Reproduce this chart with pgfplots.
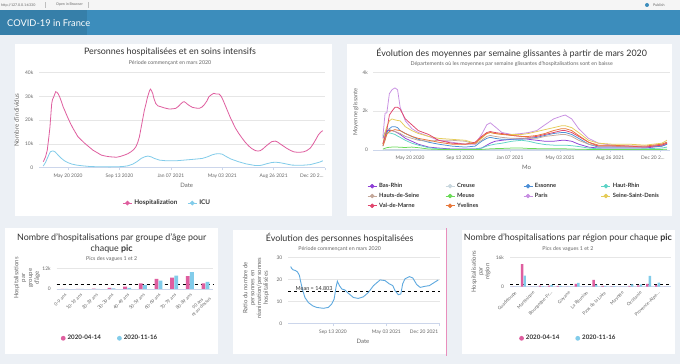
\documentclass[border=0pt]{standalone}
\usepackage{fontspec}
\setmainfont{Lato}
\usepackage{pgfplots}
\usepackage{pgfplotstable}
\pgfplotsset{compat=1.18}

\definecolor{pagebg}{HTML}{ECF0F5}
\definecolor{hdr}{HTML}{3C8DBC}
\definecolor{logo}{HTML}{367FA9}
\definecolor{darkc}{HTML}{333333}
\definecolor{tickc}{HTML}{666666}
\definecolor{gridc}{HTML}{E6E6E6}
\definecolor{axisc}{HTML}{CCD6EB}
\definecolor{pinkc}{HTML}{DF5E9F}
\definecolor{bluec}{HTML}{82CCEA}
\definecolor{ratioc}{HTML}{5EA9DF}
\definecolor{cBasRhin}{HTML}{8E3FD6}
\definecolor{cCreuse}{HTML}{C9D7DE}
\definecolor{cEssonne}{HTML}{4C8FD6}
\definecolor{cHautRhin}{HTML}{5ED3C6}
\definecolor{cHdS}{HTML}{C4A89A}
\definecolor{cMeuse}{HTML}{6BDB58}
\definecolor{cParis}{HTML}{C88FE2}
\definecolor{cSSD}{HTML}{E5CC5A}
\definecolor{cVdM}{HTML}{E0446C}
\definecolor{cYvelines}{HTML}{E8773A}

\newcommand{\fs}[1]{\fontsize{#1}{#1}\selectfont}

\pgfplotstableread{
day  br   cr   es   hr   hs   me   pa   ss   vm   yv
0    0.60 0.01 0.20 0.70 0.30 0.05 0.70 0.30 0.30 0.20
5    0.90 0.02 0.60 0.85 0.80 0.09 1.90 0.90 0.70 0.50
9    1.00 0.02 0.90 0.90 1.10 0.12 1.90 1.20 1.00 0.80
15   1.00 0.03 1.10 0.88 1.05 0.14 2.90 1.50 1.80 0.95
21   1.00 0.03 1.20 0.85 1.00 0.15 3.10 1.60 2.00 1.00
28   0.95 0.03 1.20 0.80 0.95 0.15 3.20 1.55 2.20 1.05
34   0.88 0.03 1.15 0.72 0.90 0.15 3.10 1.52 2.20 1.02
40   0.80 0.03 1.00 0.65 0.85 0.14 2.20 1.50 2.10 1.00
52   0.60 0.02 0.85 0.50 0.70 0.13 1.50 1.20 1.60 0.85
67   0.45 0.02 0.70 0.35 0.60 0.15 1.10 1.00 1.30 0.70
82   0.30 0.02 0.55 0.25 0.50 0.12 0.90 0.85 1.00 0.60
106  0.15 0.01 0.40 0.12 0.45 0.05 0.70 0.70 0.80 0.50
129  0.10 0.01 0.30 0.06 0.50 0.03 0.50 0.60 0.50 0.40
160  0.05 0.01 0.20 0.04 0.50 0.02 0.40 0.55 0.35 0.30
191  0.05 0.01 0.15 0.04 0.45 0.02 0.30 0.50 0.30 0.30
214  0.05 0.01 0.20 0.05 0.30 0.02 0.30 0.35 0.40 0.35
229  0.10 0.02 0.45 0.10 0.50 0.03 0.80 0.60 0.70 0.65
241  0.25 0.03 0.60 0.20 0.70 0.05 1.30 0.85 0.90 0.85
249  0.35 0.03 0.65 0.25 0.75 0.06 1.40 0.90 0.95 0.90
260  0.45 0.03 0.60 0.30 0.70 0.07 1.20 0.85 0.90 0.85
276  0.50 0.03 0.55 0.35 0.65 0.08 0.90 0.80 0.85 0.80
299  0.55 0.03 0.55 0.45 0.60 0.10 0.80 0.80 0.75 0.75
322  0.60 0.03 0.55 0.50 0.60 0.10 0.85 0.80 0.70 0.70
338  0.55 0.03 0.60 0.45 0.60 0.08 0.90 0.85 0.65 0.70
357  0.50 0.03 0.65 0.35 0.60 0.07 1.00 0.95 0.70 0.75
376  0.45 0.03 0.75 0.28 0.70 0.06 1.30 1.05 0.80 0.85
396  0.45 0.03 0.85 0.25 0.75 0.06 1.60 1.15 0.90 1.00
415  0.50 0.03 0.90 0.25 0.80 0.06 1.75 1.25 1.00 1.10
423  0.50 0.03 0.90 0.25 0.80 0.06 1.80 1.25 1.00 1.10
438  0.45 0.02 0.80 0.22 0.70 0.05 1.60 1.15 0.90 1.00
454  0.30 0.02 0.60 0.18 0.50 0.04 1.10 0.90 0.70 0.75
477  0.15 0.02 0.30 0.10 0.30 0.03 0.60 0.50 0.40 0.40
500  0.10 0.01 0.15 0.06 0.20 0.02 0.35 0.35 0.20 0.25
531  0.10 0.01 0.15 0.05 0.20 0.02 0.25 0.30 0.20 0.25
570  0.10 0.01 0.15 0.05 0.15 0.02 0.20 0.30 0.20 0.20
608  0.10 0.01 0.15 0.06 0.15 0.02 0.15 0.25 0.15 0.20
647  0.20 0.01 0.20 0.10 0.25 0.03 0.30 0.35 0.25 0.30
659  0.30 0.02 0.30 0.15 0.35 0.04 0.40 0.50 0.35 0.40
}\deptable

\pgfplotsset{
  hc/.style={
    scale only axis,
    axis x line*=bottom, axis y line*=left,
    x axis line style={draw=axisc, line width=0.5pt, -},
    y axis line style={draw=none},
    ymajorgrids, grid style={draw=gridc, line width=0.45pt},
    tick align=outside,
    major tick length=2.5pt,
    xtick style={draw=axisc, line width=0.45pt},
    ytick style={draw=none},
    scaled ticks=false,
    tick label style={font=\fs{4.9}, text=tickc},
    label style={font=\fs{6}, text=tickc},
    /pgf/number format/assume math mode=true,
    legend cell align=left,
  },
  lineleg/.style={legend image code/.code={\draw[##1,line width=0.9pt] (0pt,0pt) -- (9pt,0pt); \fill[##1] (4.5pt,0pt) circle (1.9pt);}},
}

\begin{document}
\begin{tikzpicture}
\useasboundingbox (0,0) rectangle (680pt,364pt);
\fill[pagebg] (0,0) rectangle (680pt,364pt);
% browser strip
\fill[white!96!black] (0,354pt) rectangle (680pt,364pt);
\node[anchor=west, font=\fs{3.6}, text=tickc, inner sep=0pt] at (1pt,359pt) {http://127.0.0.1:6330};
\draw[gray!50] (45pt,356pt) -- (45pt,362pt);
\node[anchor=west, font=\fs{3.6}, text=tickc, inner sep=0pt] at (56pt,359pt) {Open in Browser};
\draw[gray!50] (88pt,356pt) -- (88pt,362pt);
\node[anchor=west, font=\fs{3.6}, text=tickc, inner sep=0pt] at (653pt,359pt) {Publish};
\fill[hdr] (647pt,359pt) circle (2pt);
% header
\fill[hdr] (0,329pt) rectangle (680pt,354pt);
\fill[logo] (0,329pt) rectangle (87pt,354pt);
\node[anchor=west, font=\fs{9.3}, text=white, inner sep=0pt] at (7pt,340.7pt) {COVID-19 in France};
% panels
\fill[white] (15pt,148pt) rectangle (331.7pt,320pt);
\fill[white] (346.7pt,148pt) rectangle (672pt,320pt);
\fill[white] (5pt,10pt) rectangle (218pt,136pt);
\fill[white] (233pt,10pt) rectangle (446pt,134pt);
\fill[white] (462pt,10pt) rectangle (675pt,134pt);
\draw[pinkc!70, line width=0.8pt] (446pt,8pt) -- (446pt,136pt);

% titles
\node[font=\fs{8.9}, text=darkc] at (170pt,311.7pt) {Personnes hospitalisées et en soins intensifs};
\node[font=\fs{5.3}, text=tickc] at (170pt,300.7pt) {Période commençant en mars 2020};
\node[font=\fs{8.9}, text=darkc] at (511.7pt,310.7pt) {Évolution des moyennes par semaine glissantes à partir de mars 2020};
\node[font=\fs{5.3}, text=tickc] at (511.7pt,300pt) {Départements où les moyennes par semaine glissantes d'hospitalisations sont en baisse};
\node[font=\fontsize{8.9}{10.7}\selectfont, text=darkc, align=center] at (111.7pt,120.3pt) {Nombre d'hospitalisations par groupe d'âge pour\\chaque \textbf{pic}};
\node[font=\fs{5.3}, text=tickc] at (111.7pt,105pt) {Pics des vagues 1 et 2};
\node[font=\fs{8.9}, text=darkc] at (339.7pt,125.7pt) {Évolution des personnes hospitalisées};
\node[font=\fs{5.3}, text=tickc] at (339.7pt,115pt) {Période commençant en mars 2020};
\node[font=\fs{8.9}, text=darkc] at (568pt,125.7pt) {Nombre d'hospitalisations par région pour chaque \textbf{pic}};
\node[font=\fs{5.3}, text=tickc] at (568pt,115pt) {Pics des vagues 1 et 2};

% ---------- Chart 1 ----------
\begin{axis}[hc, at={(39.3pt,196.3pt)}, anchor=south west, width=285.7pt, height=95pt,
  xmin=-2, xmax=643, ymin=0, ymax=40000,
  ytick={0,10000,20000,30000,40000}, yticklabels={0,10k,20k,30k,40k},
  xtick={63,179,295,411,527},
  xticklabels={May 20 2020,Sep 13 2020,Jan 07 2021,May 03 2021,Aug 26 2021},
  extra x ticks={643}, extra x tick labels={Dec 20 2…},
  extra x tick style={tick label style={anchor=north east, xshift=2pt}},
  xlabel={Date}, xlabel style={at={(axis description cs:0.516,-0.19)}, anchor=center},
  ylabel={Nombre d'individus}, ylabel style={at={(axis description cs:-0.08,0.5)}, anchor=center, font=\fs{6.3}},
  lineleg, legend columns=2,
  legend style={at={(axis description cs:0.28,-0.372)}, anchor=west, draw=none, fill=none,
    font=\fs{6.4}\bfseries, text=darkc, /tikz/every even column/.append style={column sep=8pt}},
]
\addplot[pinkc, line width=0.8pt] coordinates {
(7,2500) (12,4500) (16,7400) (19,12000) (22,17000) (24,22000) (26,27000) (28,28800) (30,29600) (33,31000) (35,32000) (38,31700) (41,31000) (44,29800) (48,27800) (52,25500) (55,24300) (59,22500) (63,20800) (68,18800) (74,16600) (80,14700) (85,13100) (92,11800) (101,10200) (110,8800) (119,7400) (128,6400) (138,5300) (147,4900) (157,4600) (165,4500) (172,4400) (180,4700) (190,5300) (198,5900) (205,6700) (211,7600) (216,8800) (220,10500) (224,13000) (228,17000) (231,20000) (235,24000) (239,27000) (242,29500) (245,31300) (247,32500) (249,33100) (251,32500) (254,31300) (257,29000) (261,27000) (266,26000) (272,25700) (280,25200) (291,24700) (300,24800) (306,25000) (312,25800) (317,26800) (322,27600) (325,27800) (329,27300) (332,26800) (338,26000) (344,25400) (352,25100) (359,25000) (365,25500) (370,26400) (376,28000) (381,29900) (387,30800) (392,31300) (398,31000) (404,31000) (408,30200) (411,29200) (415,27500) (419,25700) (425,23000) (430,20800) (436,18500) (441,16600) (448,14500) (456,12400) (463,10700) (471,9100) (478,8000) (486,7200) (492,7000) (497,7200) (502,7800) (508,8800) (515,9900) (523,11000) (531,11200) (536,10800) (542,10000) (550,9000) (557,8100) (565,7300) (572,6700) (580,6500) (587,6500) (595,6700) (602,7200) (610,8300) (617,10200) (622,11800) (628,13800) (633,14900) (638,15600)
};
\addlegendentry{Hospitalization}
\addplot[bluec, line width=0.8pt] coordinates {
(7,700) (12,2200) (16,3900) (20,5600) (23,6700) (27,7000) (30,7000) (34,6600) (37,6000) (42,5000) (48,3900) (55,2900) (63,2100) (72,1500) (82,1100) (95,800) (112,500) (130,400) (157,350) (175,400) (187,500) (198,800) (209,1500) (218,2500) (228,3900) (236,4600) (243,4900) (250,4600) (258,3900) (269,3200) (285,2900) (306,2900) (325,3200) (344,3500) (366,3900) (378,4600) (388,5400) (396,5800) (404,5900) (411,5700) (419,4800) (430,3700) (448,2500) (465,1600) (486,900) (495,900) (501,1100) (512,1700) (523,2200) (532,2300) (542,2100) (555,1600) (568,1100) (585,1000) (598,1100) (610,1300) (620,1800) (630,2300) (638,2900)
};
\addlegendentry{ICU}
\end{axis}

% ---------- Chart 2 ----------
\begin{axis}[hc, at={(373pt,214pt)}, anchor=south west, width=297pt, height=77.7pt,
  xmin=-23, xmax=666, ymin=0, ymax=4,
  ytick={0,2,4}, yticklabels={0,2k,4k},
  yticklabel style={xshift=1pt},
  xtick={63,179,295,411,527},
  xticklabels={May 20 2020,Sep 13 2020,Jan 07 2021,May 03 2021,Aug 26 2021},
  extra x ticks={643}, extra x tick labels={Dec 20 2…},
  extra x tick style={tick label style={anchor=north east, xshift=8pt}},
  xlabel={Mo}, xlabel style={at={(axis description cs:0.517,-0.223)}, anchor=center},
  ylabel={Moyenne glissante}, ylabel style={at={(axis description cs:-0.058,0.49)}, anchor=center, font=\fs{5.8}},
  lineleg, legend columns=4,
  legend style={at={(axis description cs:-0.02,-0.40)}, anchor=north west, draw=none, fill=none,
    font=\fs{5.8}\bfseries, text=darkc, row sep=0pt, inner sep=0pt},
  every axis plot/.append style={sharp plot, line width=0.75pt, line join=round},
]
\addplot[cBasRhin] table[x=day,y=br]{\deptable}; \addlegendentry{\makebox[64pt][l]{Bas-Rhin}}
\addplot[cCreuse] table[x=day,y=cr]{\deptable}; \addlegendentry{\makebox[64pt][l]{Creuse}}
\addplot[cEssonne] table[x=day,y=es]{\deptable}; \addlegendentry{\makebox[64pt][l]{Essonne}}
\addplot[cHautRhin] table[x=day,y=hr]{\deptable}; \addlegendentry{\makebox[64pt][l]{Haut-Rhin}}
\addplot[cHdS] table[x=day,y=hs]{\deptable}; \addlegendentry{\makebox[64pt][l]{Hauts-de-Seine}}
\addplot[cMeuse] table[x=day,y=me]{\deptable}; \addlegendentry{\makebox[64pt][l]{Meuse}}
\addplot[cParis] table[x=day,y=pa]{\deptable}; \addlegendentry{\makebox[64pt][l]{Paris}}
\addplot[cSSD] table[x=day,y=ss]{\deptable}; \addlegendentry{\makebox[64pt][l]{Seine-Saint-Denis}}
\addplot[cVdM] table[x=day,y=vm]{\deptable}; \addlegendentry{\makebox[64pt][l]{Val-de-Marne}}
\addplot[cYvelines] table[x=day,y=yv]{\deptable}; \addlegendentry{\makebox[64pt][l]{Yvelines}}
\end{axis}

% ---------- Chart 3 ----------
\begin{axis}[hc, at={(56.7pt,75pt)}, anchor=south west, width=156.6pt, height=20.7pt,
  ybar=0.3pt, bar width=3.8pt,
  xmin=-0.5, xmax=9.5, ymin=0, ymax=12000,
  ytick={0,12000}, yticklabels={0,12k},
  extra y ticks={3000}, extra y tick labels={},
  extra y tick style={ymajorgrids, grid style={draw=black, dashed, line width=0.5pt}},
  xtick={0,...,9}, major x tick style={draw=none},
  xticklabels={0-9 ans,10-19 ans,20-29 ans,30-39 ans,40-49 ans,50-59 ans,60-69 ans,70-79 ans,80-89 ans,90 ans\\et au-dessus},
  xticklabel style={rotate=45, anchor=north east, font=\fontsize{4.6}{4.9}\selectfont, align=center, inner sep=1pt},
  ylabel={Hospitalisations\\par\\groupe\\d'âge}, ylabel style={at={(axis description cs:-0.19,0.53)}, anchor=center, align=center, font=\fontsize{6}{6.8}\selectfont},
  legend columns=2,
  legend style={at={(axis description cs:0.006,-2.38)}, anchor=west, draw=none, fill=none,
    font=\fs{6.2}\bfseries, text=darkc, /tikz/every even column/.append style={column sep=14pt}},
]
\addplot[fill=pinkc, draw=none, legend image code/.code={\fill[pinkc] (2.4pt,0pt) circle (2.4pt);}] coordinates {
(0,50) (1,60) (2,150) (3,700) (4,1400) (5,3300) (6,5800) (7,6600) (8,7500) (9,3300)};
\addlegendentry{2020-04-14}
\addplot[fill=bluec, draw=none, legend image code/.code={\fill[bluec] (2.4pt,0pt) circle (2.4pt);}] coordinates {
(0,40) (1,50) (2,100) (3,350) (4,700) (5,2400) (6,4900) (7,7700) (8,9800) (9,4100)};
\addlegendentry{2020-11-16}
\end{axis}

% ---------- Chart 4 ----------
\begin{axis}[hc, at={(288.3pt,40.3pt)}, anchor=south west, width=151.7pt, height=66pt,
  xmin=-15.4, xmax=644.4, ymin=0, ymax=30,
  ytick={0,10,20,30},
  extra y ticks={14.803}, extra y tick labels={},
  extra y tick style={ymajorgrids, grid style={draw=black, dashed, line width=0.5pt}},
  xtick={179,411}, xticklabels={Sep 13 2020,May 03 2021},
  extra x ticks={643}, extra x tick labels={Dec 20 2021},
  extra x tick style={tick label style={anchor=north east, xshift=2pt}},
  xlabel={Date}, xlabel style={at={(axis description cs:0.492,-0.262)}, anchor=center},
  ylabel={Ratio du nombre de\\personnes en\\réanimation/personnes\\hospitalisées},
  ylabel style={at={(axis description cs:-0.213,0.54)}, anchor=center, align=center, font=\fontsize{6}{6.8}\selectfont},
]
\addplot[ratioc, line width=0.9pt] coordinates {
(-5,26.0) (0,25.0) (5,24.5) (15,24.2) (25,23.5) (33,21.9) (39,18.8) (47,15.3) (57,11.9) (72,9.6) (91,8.1) (108,7.4) (137,7.0) (159,7.4) (173,8.9) (184,11.2) (192,16.5) (198,19.3) (207,17.3) (217,15.8) (231,15.3) (246,13.8) (268,11.9) (289,11.5) (311,12.2) (333,14.2) (355,17.3) (384,19.9) (405,19.6) (424,18.1) (439,17.3) (449,15.0) (463,13.2) (474,13.5) (482,18.1) (492,20.4) (511,21.4) (526,20.8) (543,17.8) (558,16.5) (579,17.0) (598,17.3) (616,18.5) (637,19.9)
};
\node[anchor=south west, font=\fs{5.5}, text=darkc, inner sep=0.8pt] at (axis cs:12,14.803) {Mean = 14.803};
\end{axis}

% ---------- Chart 5 ----------
\begin{axis}[hc, at={(510pt,77.3pt)}, anchor=south west, width=161pt, height=29pt,
  ybar=0.2pt, bar width=2.4pt,
  xmin=-0.5, xmax=17.5, ymin=0, ymax=16000,
  ytick={0,16000}, yticklabels={0,16k},
  extra y ticks={1320}, extra y tick labels={},
  extra y tick style={ymajorgrids, grid style={draw=black, dashed, line width=0.5pt}},
  xtick={0,2,...,16}, major x tick style={draw=none},
  xticklabels={Guadeloupe,Martinique,Bourgogne-Fr…,Guyane,La Réunion,Pays de la Loire,Mayotte,Occitanie,Provence-Alpe…},
  xticklabel style={rotate=45, anchor=north east, font=\fs{4.6}, inner sep=1pt},
  ylabel={Hospitalisations\\par\\région}, ylabel style={at={(axis description cs:-0.18,0.52)}, anchor=center, align=center, font=\fontsize{6}{6.8}\selectfont},
  legend columns=2,
  legend style={at={(axis description cs:0.037,-1.78)}, anchor=west, draw=none, fill=none,
    font=\fs{6.2}\bfseries, text=darkc, /tikz/every even column/.append style={column sep=14pt}},
]
\addplot[fill=pinkc, draw=none, legend image code/.code={\fill[pinkc] (2.4pt,0pt) circle (2.4pt);}] coordinates {
(0,50) (1,12500) (2,50) (3,600) (4,600) (5,400) (6,100) (7,1500) (8,50) (9,3700) (10,500) (11,200) (12,50) (13,500) (14,700) (15,1600) (16,1000) (17,100)};
\addlegendentry{2020-04-14}
\addplot[fill=bluec, draw=none, legend image code/.code={\fill[bluec] (2.4pt,0pt) circle (2.4pt);}] coordinates {
(0,50) (1,6100) (2,50) (3,300) (4,1000) (5,500) (6,50) (7,2100) (8,100) (9,1200) (10,500) (11,300) (12,50) (13,1300) (14,1300) (15,6000) (16,2200) (17,100)};
\addlegendentry{2020-11-16}
\end{axis}
\end{tikzpicture}
\end{document}
